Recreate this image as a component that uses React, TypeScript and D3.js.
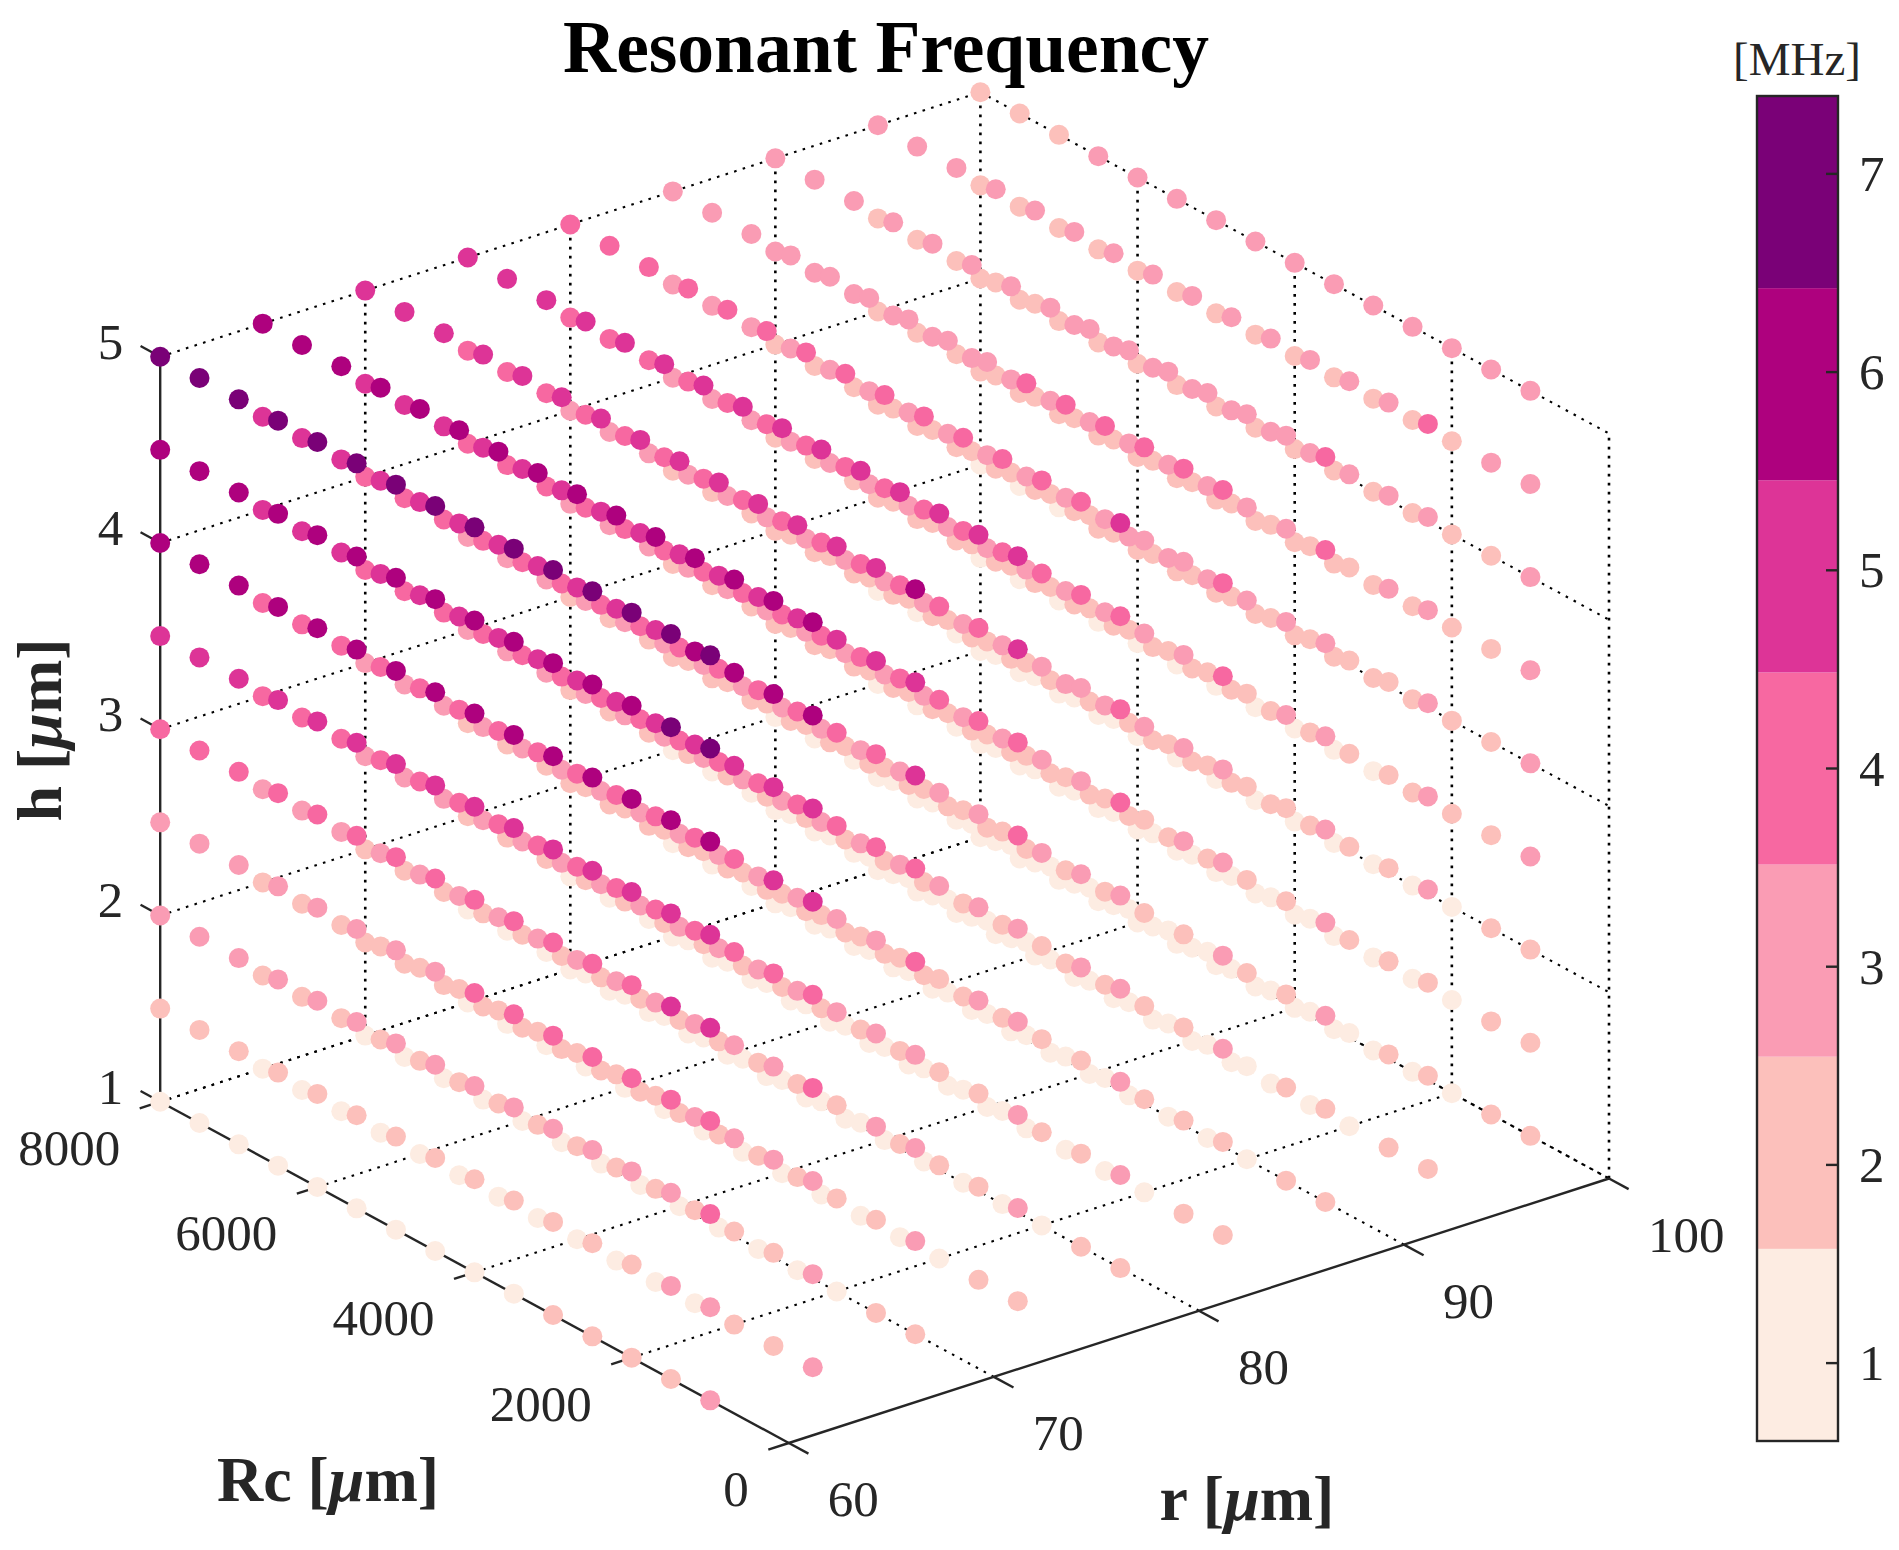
import { useEffect, useRef } from 'react';
import * as d3 from 'd3';

// axes values
const rValues = [100, 95, 90, 85, 80, 75, 70, 65, 60];
const hValues = [5, 4.5, 4, 3.5, 3, 2.5, 2, 1.5, 1];
const rcValues = [8000, 7500, 7000, 6500, 6000, 5500, 5000, 4500, 4000, 3500, 3000, 2500, 2000, 1500, 1000];

const rTicks = [60, 70, 80, 90, 100];
const rcTicks = [0, 2000, 4000, 6000, 8000];
const hTicks = [1, 2, 3, 4, 5];
const barTicks = [1, 2, 3, 4, 5, 6, 7];

// colour levels, one row per h (5 -> 1), one digit per Rc (8000 -> 1000)
const freqR60 = ['777777777777777', '666666666666677', '666666666666666', '555555555555555', '444444444444455', '333333334444444', '333333333333334', '222222222222233', '111111111122223'];
const freqR65 = ['666666666666666', '555555555556666', '555555555555555', '444444444444455', '444444444444444', '333333333333334', '222222222223333', '222222222222223', '111111111111223'];
const freqR70 = ['555555555555556', '555555555555555', '444444444444445', '444444444444444', '333333333333334', '333333333333333', '222222222222233', '222222222222223', '111111111111122'];
const freqR75 = ['555555555555555', '444444444444445', '444444444444444', '333333333333334', '333333333333333', '222222222222233', '222222222222223', '111111111112223', '111111111111122'];
const freqR80 = ['444444444444445', '444444444444444', '333333333333334', '333333333333334', '222222222222333', '222222222222233', '222222222222223', '111111111111223', '111111111111122'];
const freqR85 = ['333333333444444', '333333333333334', '333333333333334', '222222222233333', '222222222222233', '222222222222223', '111111111122223', '111111111111222', '111111111111122'];
const freqR90 = ['333333333333334', '333333333333334', '222222222333333', '222222222222233', '222222222222223', '222222222222223', '111111111111223', '111111111111122', '111111111111122'];
const freqR95 = ['333333333333334', '222223333333333', '222222222222233', '222222222222223', '222222222222223', '111111122222223', '111111111111222', '111111111111122', '111111111111122'];
const freqR100 = ['222333333333333', '222222222222233', '222222222222223', '222222222222223', '111222222222223', '111111111112223', '111111111111122', '111111111111122', '111111111111122'];

const freqTable = [freqR100, freqR95, freqR90, freqR85, freqR80, freqR75, freqR70, freqR65, freqR60];

const barColors = ['#fdece2', '#fcc0bb', '#fa9cb4', '#f768a1', '#dd3497', '#ae017e', '#7a0177'];

const App = () => {
  const svgRef = useRef<SVGSVGElement | null>(null);

  useEffect(() => {
    const svg = d3.select(svgRef.current);
    svg.selectAll('*').remove();

    const serif = '"Liberation Serif", "Times New Roman", serif';
    const axisColor = '#262626';

    // orthographic projection, one scale per axis and per screen direction
    const originX = 788.8;
    const originY = 1443;
    const xR = d3.scaleLinear().domain([60, 100]).range([0, 820.2]);
    const yR = d3.scaleLinear().domain([60, 100]).range([0, -264.5]);
    const xRc = d3.scaleLinear().domain([0, 8000]).range([0, -628.6]);
    const yRc = d3.scaleLinear().domain([0, 8000]).range([0, -341.3]);
    const yH = d3.scaleLinear().domain([1, 5]).range([0, -745]);
    const px = (r: number, rc: number) => originX + xR(r) + xRc(rc);
    const py = (r: number, rc: number, h: number) => originY + yR(r) + yRc(rc) + yH(h);

    const color = d3.scaleThreshold<number, string>().domain([1.5, 2.5, 3.5, 4.5, 5.5, 6.5]).range(barColors);

    svg.append('rect').attr('width', 1899).attr('height', 1550).attr('fill', '#fff');

    // grid, dotted. the verticals look heavier than the sloped lines in the original
    const slopedSegs: number[][] = [];
    const verticalSegs: number[][] = [];
    hTicks.forEach(h => {
      slopedSegs.push([60, 8000, h, 100, 8000, h]);
      slopedSegs.push([100, 8000, h, 100, 0, h]);
    });
    rTicks.slice(1).forEach(r => {
      verticalSegs.push([r, 8000, 1, r, 8000, 5]);
      slopedSegs.push([r, 0, 1, r, 8000, 1]);
    });
    rcTicks.slice(0, 4).forEach(rc => verticalSegs.push([100, rc, 1, 100, rc, 5]));
    rcTicks.slice(1).forEach(rc => slopedSegs.push([60, rc, 1, 100, rc, 1]));

    const drawSegs = (segs: number[][], stroke: string, width: number, dash?: string) =>
      svg
        .append('g')
        .selectAll('line')
        .data(segs)
        .enter()
        .append('line')
        .attr('x1', d => px(d[0], d[1]))
        .attr('y1', d => py(d[0], d[1], d[2]))
        .attr('x2', d => px(d[3], d[4]))
        .attr('y2', d => py(d[3], d[4], d[5]))
        .attr('stroke', stroke)
        .attr('stroke-width', width)
        .attr('stroke-dasharray', dash ?? null);

    drawSegs(slopedSegs, '#000', 2.1, '2.6 6.4');
    drawSegs(verticalSegs, '#000', 2.6, '2.8 6.2');

    // solid axes
    const axisSegs = [
      [60, 8000, 1, 60, 8000, 5],
      [60, 0, 1, 60, 8000, 1],
      [60, 0, 1, 100, 0, 1],
    ];
    rTicks.forEach(r => axisSegs.push([r, 0, 1, r, -250, 1]));
    rcTicks.forEach(rc => axisSegs.push([60, rc, 1, 59, rc, 1]));
    hTicks.forEach(h => axisSegs.push([60, 8000, h, 60, 8250, h]));
    drawSegs(axisSegs, axisColor, 2.4);

    // points, far ones first so that r=60 stays on top
    const points: { r: number; rc: number; h: number; f: number }[] = [];
    rValues.forEach((r, i) => {
      [...hValues.keys()].reverse().forEach(j => {
        rcValues.forEach((rc, k) => {
          points.push({ r, rc, h: hValues[j], f: Number(freqTable[i][j][k]) });
        });
      });
    });

    svg
      .append('g')
      .selectAll('circle')
      .data(points)
      .enter()
      .append('circle')
      .attr('cx', d => px(d.r, d.rc))
      .attr('cy', d => py(d.r, d.rc, d.h))
      .attr('r', 10)
      .attr('fill', d => color(d.f));

    // tick labels
    const tickText = (x: number, y: number, text: string | number, anchor: string, size = 51) =>
      svg
        .append('text')
        .attr('x', x)
        .attr('y', y)
        .attr('text-anchor', anchor)
        .attr('font-family', serif)
        .attr('font-size', size)
        .attr('fill', axisColor)
        .text(text);

    hTicks.forEach(h => tickText(px(60, 8000) - 37, py(60, 8000, h) + 2, h, 'end'));
    rcTicks.forEach(rc => tickText(px(60, rc) - 40, py(60, rc, 1) + 63, rc, 'end'));
    rTicks.forEach(r => tickText(px(r, 0) + 39, py(r, 0, 1) + 73, r, 'start'));

    // titles
    const boldLabel = (x: number, y: number, name: string, rotate?: number) => {
      const t = svg
        .append('text')
        .attr('text-anchor', 'middle')
        .attr('font-family', serif)
        .attr('font-weight', 'bold')
        .attr('font-size', 64)
        .attr('fill', axisColor)
        .attr('transform', `translate(${x},${y})${rotate ? ` rotate(${rotate})` : ''}`);
      t.append('tspan').text(`${name} [`);
      t.append('tspan').attr('font-style', 'italic').text('\u03bc');
      t.append('tspan').text('m]');
    };
    boldLabel(61, 730, 'h', -90);
    boldLabel(328, 1501, 'Rc');
    boldLabel(1247, 1520, 'r');

    svg
      .append('text')
      .attr('x', 886)
      .attr('y', 72)
      .attr('text-anchor', 'middle')
      .attr('font-family', serif)
      .attr('font-weight', 'bold')
      .attr('font-size', 73.5)
      .attr('fill', '#000')
      .text('Resonant Frequency');

    // colorbar
    const barLeft = 1757;
    const barRight = 1838;
    const barY = d3.scaleLinear().domain([0.607, 7.393]).range([1441, 96]);
    const bands = d3.scaleBand<number>().domain(barTicks).range([1441, 96]);

    svg
      .append('g')
      .selectAll('rect')
      .data(barTicks)
      .enter()
      .append('rect')
      .attr('x', barLeft)
      .attr('width', barRight - barLeft)
      .attr('y', d => bands(d) as number)
      .attr('height', bands.bandwidth())
      .attr('fill', (d, i) => barColors[i]);

    svg
      .append('rect')
      .attr('x', barLeft)
      .attr('y', 96)
      .attr('width', barRight - barLeft)
      .attr('height', 1441 - 96)
      .attr('fill', 'none')
      .attr('stroke', axisColor)
      .attr('stroke-width', 2.4);

    barTicks.forEach(v => {
      svg
        .append('line')
        .attr('x1', barRight - 12)
        .attr('x2', barRight)
        .attr('y1', barY(v))
        .attr('y2', barY(v))
        .attr('stroke', axisColor)
        .attr('stroke-width', 2.4);
      tickText(1859, barY(v) + 17, v, 'start');
    });

    tickText(1797, 75, '[MHz]', 'middle', 47);
  }, []);

  return (
    <svg
      ref={svgRef}
      width={1899}
      height={1550}
      style={{ position: 'absolute', left: 0, top: 0, display: 'block' }}
    ></svg>
  );
};

export default App;
